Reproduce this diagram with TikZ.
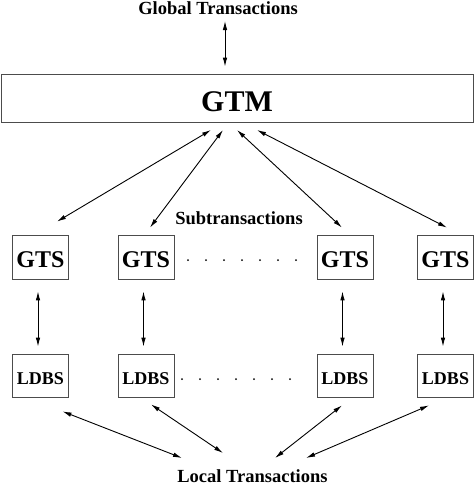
\documentclass[tikz,border=0pt]{standalone}
\usepackage{fontspec}
\setmainfont{Liberation Serif}
\usepackage{tikz}
\usetikzlibrary{positioning}
\usetikzlibrary{arrows.meta}
\tikzset{unitbox/.style={draw=black!70, line width=0.8pt, inner sep=0pt, minimum width=56pt}}
\tikzset{gtsbox/.style={unitbox, minimum height=44pt, text height=20pt, text depth=0pt, font=\fontsize{24}{26}\selectfont\bfseries}}
\tikzset{ldbsbox/.style={unitbox, minimum height=43pt, text height=17pt, text depth=0pt, font=\fontsize{18}{20}\selectfont\bfseries}}
\tikzset{label/.style={anchor=base, inner sep=0pt, font=\fontsize{18.5}{20}\selectfont\bfseries}}
\tikzset{link/.style={{Latex[length=9pt,width=4.5pt]}-{Latex[length=9pt,width=4.5pt]}, line width=0.9pt}}

\begin{document}
\begin{tikzpicture}[x=1pt,y=-1pt]
\useasboundingbox (0,0) rectangle (474,485);
\node[label] (global) at (218,14.5) {Global Transactions};
\node[unitbox, minimum width=472pt, minimum height=48pt, text height=26pt, text depth=0pt,
      font=\fontsize{30}{32}\selectfont\bfseries] (gtm) at (237,98) {GTM};
\coordinate (gtop) at (225,21);
\draw[link] (gtop) -- ([xshift=-12pt,yshift=7pt]gtm.north);
\node[label] (sub) at (239,224) {Subtransactions};
\node[label] (local) at (252.5,482) {Local Transactions};
% the four sites
\foreach \x [count=\i] in {40.5,146,345,445.5} {
\node[gtsbox] (gts\i) at (\x,257) {GTS};
\node[ldbsbox] (ldbs\i) at (\x,375.5) {LDBS};
\draw[link, shorten <=12pt, shorten >=7pt] ([xshift=-2.5pt]gts\i.south) -- ([xshift=-2.5pt]ldbs\i.north);
}
\foreach \i in {0,...,6} {
\fill (188+18*\i,260) circle (1pt);
\fill (182+18*\i,379) circle (1pt);
}
% gtm to gts
\coordinate (g1) at (211,130);
\coordinate (g2) at (223,130);
\coordinate (g3) at (237,130);
\coordinate (g4) at (257,130);
\draw[link] (g1) -- ([xshift=16.5pt,yshift=13pt]gts1.north);
\draw[link] (g2) -- ([xshift=4pt,yshift=7pt]gts2.north);
\draw[link] (g3) -- ([xshift=-3pt,yshift=7pt]gts3.north);
\draw[link] (g4) -- ([xshift=1.5pt,yshift=7pt]gts4.north);
% ldbs to local
\coordinate (l1) at (182,458);
\coordinate (l2) at (223,453);
\coordinate (l3) at (275,458);
\coordinate (l4) at (306,458);
\draw[link] ([xshift=22pt,yshift=-14pt]ldbs1.south) -- (l1);
\draw[link] ([xshift=5pt,yshift=-7pt]ldbs2.south) -- (l2);
\draw[link] ([xshift=-3pt,yshift=-8pt]ldbs3.south) -- (l3);
\draw[link] ([xshift=-16.5pt,yshift=-8pt]ldbs4.south) -- (l4);
\end{tikzpicture}
\end{document}
